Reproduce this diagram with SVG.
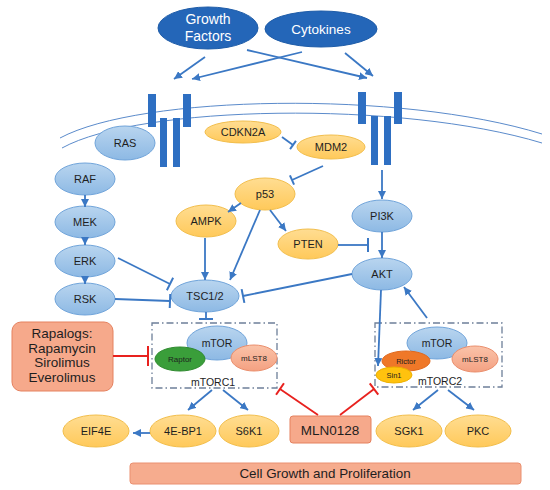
<svg xmlns="http://www.w3.org/2000/svg" width="550" height="490" viewBox="0 0 550 490">
<defs>
<linearGradient id="gBlue" x1="0" y1="0" x2="0" y2="1"><stop offset="0" stop-color="#B9D5EF"/><stop offset="1" stop-color="#8DB9E4"/></linearGradient>
<linearGradient id="gYel" x1="0" y1="0" x2="0" y2="1"><stop offset="0" stop-color="#FFDD92"/><stop offset="1" stop-color="#FFC95A"/></linearGradient>
<linearGradient id="gSal" x1="0" y1="0" x2="0" y2="1"><stop offset="0" stop-color="#FAC3A9"/><stop offset="1" stop-color="#F4A182"/></linearGradient>
<marker id="arr" viewBox="0 0 10 10" refX="10" refY="5" markerWidth="8" markerHeight="8" markerUnits="userSpaceOnUse" orient="auto"><path d="M0,0 L10,5 L0,10 z" fill="#3B78C4"/></marker>
<marker id="teeB" viewBox="-2 -8 4 16" refX="0" refY="0" markerWidth="4" markerHeight="16" markerUnits="userSpaceOnUse" orient="auto"><path d="M0,-7 L0,7" stroke="#3B78C4" stroke-width="2"/></marker>
<marker id="teeBs" viewBox="-2 -6 4 12" refX="0" refY="0" markerWidth="4" markerHeight="12" markerUnits="userSpaceOnUse" orient="auto"><path d="M0,-5 L0,5" stroke="#3B78C4" stroke-width="2"/></marker>
<marker id="teeR" viewBox="-2 -11 4 22" refX="0" refY="0" markerWidth="4" markerHeight="22" markerUnits="userSpaceOnUse" orient="auto"><path d="M0,-10 L0,10" stroke="#E8211E" stroke-width="2"/></marker>
<marker id="teeRs" viewBox="-2 -8 4 16" refX="0" refY="0" markerWidth="4" markerHeight="16" markerUnits="userSpaceOnUse" orient="auto"><path d="M0,-7 L0,7" stroke="#E8211E" stroke-width="2"/></marker>
</defs>
<style>
text{font-family:"Liberation Sans",Arial,sans-serif;text-anchor:middle;fill:#1E1E1E}
.blue{fill:url(#gBlue);stroke:#70A4DA;stroke-width:1}
.yel{fill:url(#gYel);stroke:#F2BE4C;stroke-width:1}
.sal{fill:url(#gSal);stroke:#EA8E6C;stroke-width:1}
.dark{fill:#2466B8;stroke:#1E5CA8;stroke-width:1}
.lbl{font-size:11px}
.wht{fill:#FFFFFF}
.rec{fill:#2E6FC2}
.mem{fill:none;stroke:#5B8BCB;stroke-width:1}
.box{fill:none;stroke:#6D7F99;stroke-width:1.3;stroke-dasharray:7 3 1.5 3}
.c{fill:none;stroke:#3B78C4;stroke-width:1.8}
.r{fill:none;stroke:#E8211E;stroke-width:1.8}
.a{marker-end:url(#arr)}
.t{marker-end:url(#teeB)}
.ts{marker-end:url(#teeBs)}
</style>

<g id="membrane">
<path class="mem" d="M60,138 C140,95 400,90 542,134"/>
<path class="mem" d="M62,148 C140,105 400,100 542,143"/>
</g>
<g id="receptor-left">
<rect class="rec" x="148" y="94" width="8" height="33"/>
<rect class="rec" x="183" y="94" width="8" height="33"/>
<rect class="rec" x="160" y="118" width="7" height="49"/>
<rect class="rec" x="173" y="118" width="7" height="49"/>
</g>
<g id="receptor-right">
<rect class="rec" x="358" y="92" width="8" height="32"/>
<rect class="rec" x="394" y="92" width="8" height="32"/>
<rect class="rec" x="371" y="116" width="7" height="49"/>
<rect class="rec" x="384" y="116" width="7" height="49"/>
</g>

<g id="cytokines"><ellipse class="dark" cx="321" cy="29" rx="56" ry="18"/><text class="wht" x="321" y="34" font-size="13.5">Cytokines</text></g>
<g id="growth-factors"><ellipse class="dark" cx="208" cy="28" rx="50" ry="21"/><text class="wht" x="208" y="24" font-size="14">Growth</text><text class="wht" x="208" y="41" font-size="14">Factors</text></g>

<g id="ras"><ellipse class="blue" cx="125" cy="143" rx="30" ry="17"/><text class="lbl" x="125" y="147">RAS</text></g>
<g id="cdkn2a"><ellipse class="yel" cx="243" cy="132" rx="38" ry="11"/><text class="lbl" x="243" y="136">CDKN2A</text></g>
<g id="mdm2"><ellipse class="yel" cx="331" cy="147" rx="34" ry="12"/><text class="lbl" x="331" y="151">MDM2</text></g>
<g id="raf"><ellipse class="blue" cx="85" cy="179" rx="30" ry="16"/><text class="lbl" x="85" y="183">RAF</text></g>
<g id="mek"><ellipse class="blue" cx="85" cy="222" rx="30" ry="16"/><text class="lbl" x="85" y="226">MEK</text></g>
<g id="erk"><ellipse class="blue" cx="85" cy="261" rx="30" ry="16"/><text class="lbl" x="85" y="265">ERK</text></g>
<g id="rsk"><ellipse class="blue" cx="85" cy="299" rx="30" ry="16"/><text class="lbl" x="85" y="303">RSK</text></g>
<g id="p53"><ellipse class="yel" cx="265" cy="194" rx="30" ry="16"/><text class="lbl" x="265" y="198">p53</text></g>
<g id="ampk"><ellipse class="yel" cx="206" cy="221" rx="30" ry="16"/><text class="lbl" x="206" y="225">AMPK</text></g>
<g id="pten"><ellipse class="yel" cx="308" cy="244" rx="30" ry="15"/><text class="lbl" x="308" y="248">PTEN</text></g>
<g id="tsc12"><ellipse class="blue" cx="205" cy="296" rx="34" ry="16"/><text class="lbl" x="205" y="300">TSC1/2</text></g>
<g id="pi3k"><ellipse class="blue" cx="382" cy="216" rx="30" ry="16"/><text class="lbl" x="382" y="220">PI3K</text></g>
<g id="akt"><ellipse class="blue" cx="382" cy="274" rx="30" ry="16"/><text class="lbl" x="382" y="278">AKT</text></g>

<g id="mtorc1">
<rect class="box" x="152" y="323" width="125" height="65"/>
<ellipse class="blue" cx="217" cy="343" rx="30" ry="17"/><text x="217" y="347" font-size="10.5">mTOR</text>
<ellipse cx="180" cy="359" rx="25" ry="12" fill="#3A9E3A" stroke="#2E8A2E"/><text x="180" y="362" font-size="8" fill="#1E3A1E">Raptor</text>
<ellipse class="sal" cx="254" cy="358" rx="23" ry="13"/><text x="254" y="361" font-size="8">mLST8</text>
<text x="213" y="386" font-size="10.5">mTORC1</text>
</g>
<g id="mtorc2">
<rect class="box" x="375" y="323" width="127" height="64"/>
<ellipse class="blue" cx="437" cy="343" rx="30" ry="16"/><text x="437" y="347" font-size="10.5">mTOR</text>
<ellipse class="sal" cx="475" cy="359" rx="23" ry="13"/><text x="475" y="362" font-size="8">mLST8</text>
<ellipse cx="406" cy="361" rx="24" ry="10" fill="#EF7828" stroke="#E0681C"/><text x="406" y="364" font-size="7.5" fill="#4A2200">Rictor</text>
<ellipse cx="394" cy="375" rx="18" ry="8" fill="#FFC20E" stroke="#EDB000"/><text x="394" y="378" font-size="7.5" fill="#3A2A00">Sin1</text>
<text x="440" y="385" font-size="10.5">mTORC2</text>
</g>

<g id="rapalogs"><rect class="sal" x="12" y="322" width="101" height="69" rx="9" style="fill:#F6A98B;stroke:#E5815F"/>
<text x="62" y="338" font-size="13.5">Rapalogs:</text><text x="62" y="353" font-size="13.5">Rapamycin</text><text x="62" y="367" font-size="13.5">Sirolimus</text><text x="62" y="382" font-size="13.5">Everolimus</text></g>
<g id="mln0128"><rect class="sal" x="290" y="416" width="81" height="27" rx="3" style="fill:#F6A98B;stroke:#E5815F"/><text x="330" y="435" font-size="13.5">MLN0128</text></g>

<g id="eif4e"><ellipse class="yel" cx="96" cy="431" rx="33" ry="16"/><text class="lbl" x="96" y="435">EIF4E</text></g>
<g id="4ebp1"><ellipse class="yel" cx="183" cy="431" rx="33" ry="16"/><text class="lbl" x="183" y="435">4E-BP1</text></g>
<g id="s6k1"><ellipse class="yel" cx="249" cy="431" rx="30" ry="16"/><text class="lbl" x="249" y="435">S6K1</text></g>
<g id="sgk1"><ellipse class="yel" cx="409" cy="431" rx="33" ry="16"/><text class="lbl" x="409" y="435">SGK1</text></g>
<g id="pkc"><ellipse class="yel" cx="478" cy="431" rx="33" ry="16"/><text class="lbl" x="478" y="435">PKC</text></g>

<g id="cell-growth"><rect x="130" y="463" width="391" height="21" rx="3" fill="#F6AC8E" stroke="#EA9070"/><text x="325" y="478" font-size="13.4">Cell Growth and Proliferation</text></g>

<g id="connectors">
<path class="c a" d="M205,57 L174,79"/>
<path class="c a" d="M247,50 L367,78"/>
<path class="c a" d="M302,52 L192,79"/>
<path class="c a" d="M345,53 L373,76"/>
<path class="c a" d="M85,195 L85,207"/>
<path class="c a" d="M85,238 L85,245"/>
<path class="c a" d="M85,277 L85,284"/>
<path class="c t" d="M118,258 L170,284"/>
<path class="c t" d="M115,299 L170,301"/>
<path class="c a" d="M205,238 L205,280"/>
<path class="c a" d="M260,210 L230,280"/>
<path class="c a" d="M241,203 L228,212"/>
<path class="c a" d="M270,210 L286,231"/>
<path class="c ts" d="M282,137 L293,145"/>
<path class="c ts" d="M323,166 L292,180"/>
<path class="c a" d="M382,170 L382,199"/>
<path class="c a" d="M382,232 L382,258"/>
<path class="c t" d="M338,245 L368,245"/>
<path class="c t" d="M352,274 L243,296"/>
<path class="c" d="M206,312 L206,319" style="marker-end:url(#teeB)"/>
<path class="c a" d="M381,290 L378,366"/>
<path class="c a" d="M427,318 L404,287"/>
<path class="c a" d="M212,390 L188,410"/>
<path class="c a" d="M223,390 L248,410"/>
<path class="c a" d="M150,433 L133,433"/>
<path class="c a" d="M438,390 L413,410"/>
<path class="c a" d="M448,390 L474,410"/>
<path class="r" d="M113,356 L148,356" style="marker-end:url(#teeR)"/>
<path class="r" d="M318,415 L280,389" style="marker-end:url(#teeRs)"/>
<path class="r" d="M340,415 L374,389" style="marker-end:url(#teeRs)"/>
</g>
</svg>
